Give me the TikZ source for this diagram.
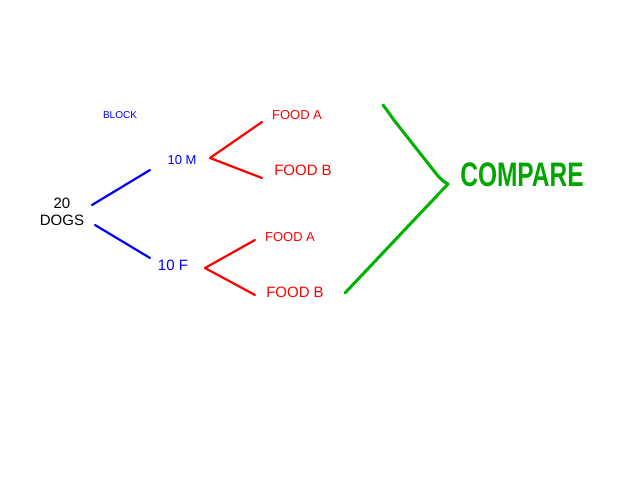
\documentclass[tikz,border=0pt]{standalone}
\usepackage{fontspec}
\setmainfont{Liberation Sans}
\begin{document}
\begin{tikzpicture}[x=1pt,y=-1pt,
  stroke/.style={line width=2.2pt,line cap=round,line join=round},
  lbl/.style={inner sep=0pt,font=\fontsize{13}{14}\selectfont}]
\useasboundingbox[fill=white] (0,0) rectangle (638,478);
\node[lbl,align=center,font=\fontsize{15}{17}\selectfont] (dogs) at (62,212) {20\\DOGS};
\node[lbl,blue,font=\fontsize{10}{11}\selectfont] (block) at (120,115) {BLOCK};
\node[lbl,blue] (m) at (182,160) {10 M};
\node[lbl,blue,font=\fontsize{15}{16}\selectfont] (f) at (173,265) {10 F};
\node[lbl,red] (fa1) at (297,115) {FOOD A};
\node[lbl,red,font=\fontsize{15}{16}\selectfont] (fb1) at (303,170) {FOOD B};
\node[lbl,red] (fa2) at (290,237) {FOOD A};
\node[lbl,red,font=\fontsize{15}{16}\selectfont] (fb2) at (295,292) {FOOD B};
\node[lbl,green!65!black,font=\fontsize{34}{36}\selectfont\bfseries,xscale=0.72] (cmp) at (522,175) {COMPARE};
\coordinate (d1) at (92,205); \coordinate (d2) at (95,225);
\coordinate (m1) at (150,170); \coordinate (f1) at (150,258);
\coordinate (mr) at (210,158); \coordinate (fr) at (205,268);
\coordinate (a1) at (262,122); \coordinate (b1) at (262,178);
\coordinate (a2) at (255,240); \coordinate (b2) at (255,295);
\coordinate (g1) at (383,105); \coordinate (g2) at (448,184); \coordinate (g3) at (345,293);
\draw[stroke,blue] (d1) -- (m1);
\draw[stroke,blue] (d2) -- (f1);
\draw[stroke,red] (a1) -- (mr) -- (b1);
\draw[stroke,red] (a2) -- (fr) -- (b2);
\draw[stroke,green!70!black,line width=3pt] (g1) .. controls (390,114) and (392,118) .. (397,124)
  -- (438,176) .. controls (444,182) .. (g2) -- (g3);
\end{tikzpicture}
\end{document}
